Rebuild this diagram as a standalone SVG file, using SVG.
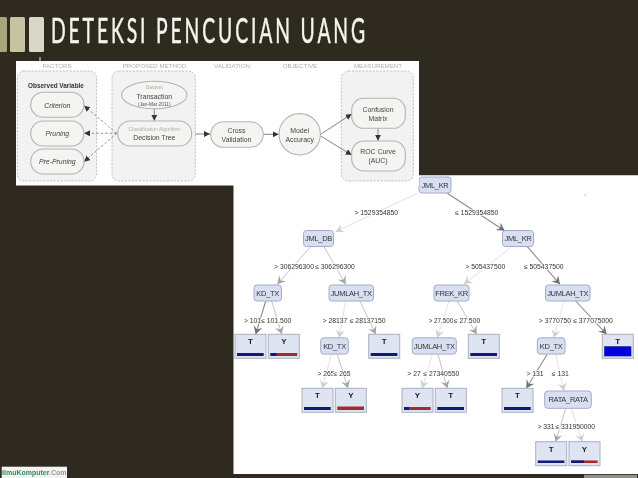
<svg xmlns="http://www.w3.org/2000/svg" width="638" height="478" viewBox="0 0 638 478">
<style>
text{font-family:"Liberation Sans",Arial,sans-serif;text-anchor:middle}
.panel{fill:#f2f2f2;stroke:#b0b0b0;stroke-dasharray:2 1.5;stroke-width:.8}
.pill{fill:#f4f4f2;stroke:#b4b4af;stroke-width:1.1}
.hd{font-size:6.2px;fill:#b0b0b0}
.t1{font-size:6.9px;fill:#444}
.it{font-size:6.9px;fill:#444;font-style:italic}
.gr{font-size:5px;fill:#b0b0b0}
.nd rect{fill:#d9dff2;stroke:#a4abc8;stroke-width:1}
.nd text{font-size:7.5px;fill:#333;letter-spacing:-.3px}
.lf>rect:first-child{fill:#dfe4f3;stroke:#a9afc2;stroke-width:1}
.lf text{font-size:8px;font-weight:bold;fill:#222}
.lb{font-size:6.8px;fill:#333;paint-order:stroke;stroke:#fff;stroke-width:1.6px}
.d1{stroke:#666;stroke-width:.7;stroke-dasharray:2.5 2;marker-end:url(#ah)}
.s1{stroke:#777;stroke-width:.9;marker-end:url(#ah)}
.e1{stroke:#e2e2e2;stroke-width:1;marker-end:url(#vl)}
.e2{stroke:#c4c4c4;stroke-width:1;marker-end:url(#vm)}
.e3{stroke:#8d8d8d;stroke-width:1.1;marker-end:url(#vd)}
</style>
<defs>
<filter id="b" x="-2%" y="-2%" width="104%" height="104%"><feGaussianBlur stdDeviation="0.5"/></filter>
<marker id="ah" markerUnits="userSpaceOnUse" markerWidth="8" markerHeight="8" refX="6" refY="3" orient="auto"><path d="M0 0L6 3L0 6Z" fill="#333"/></marker>
<marker id="vl" markerUnits="userSpaceOnUse" markerWidth="10" markerHeight="10" refX="8" refY="4.500" orient="auto"><path d="M0 0L8 4.500L0 9L3 4.500Z" fill="#cfcfcf"/></marker>
<marker id="vm" markerUnits="userSpaceOnUse" markerWidth="10" markerHeight="10" refX="8" refY="4.500" orient="auto"><path d="M0 0L8 4.500L0 9L3 4.500Z" fill="#a5a5a5"/></marker>
<marker id="vd" markerUnits="userSpaceOnUse" markerWidth="10" markerHeight="10" refX="8" refY="4.500" orient="auto"><path d="M0 0L8 4.500L0 9L3 4.500Z" fill="#6f6f6f"/></marker>
</defs>
<rect width="638" height="478" fill="#2e2a1f"/>
<g id="slide-head" filter="url(#b)">
<rect x="-4" y="17" width="11" height="35" rx="1.500" fill="#a8a67c"/>
<rect x="10" y="17" width="15" height="35" rx="1.500" fill="#c5c3a0"/>
<rect x="29" y="17" width="15" height="35" rx="1.500" fill="#d9d7c5"/>
<text x="51" y="43" style="text-anchor:start;font-family:Lato,'Liberation Sans',sans-serif;font-size:34px;letter-spacing:5px;stroke:#f4f4ee;stroke-width:.5px" fill="#f4f4ee" textLength="317" lengthAdjust="spacingAndGlyphs">DETEKSI PENCUCIAN UANG</text>
<rect x="39.500" y="57" width="1" height="5" fill="#ddd"/>
</g>
<g id="tree-image" filter="url(#b)">
<rect x="233.500" y="175" width="405" height="299" fill="#fff"/>
<rect x="419" y="175" width="219" height="1" fill="#cfcbc4"/>
<circle cx="585" cy="195" r=".6" fill="#777"/>
<g id="tree-connectors">
<line class="e1" x1="417.300" y1="193.300" x2="335.700" y2="231.700"/>
<line class="e3" x1="447.300" y1="193.300" x2="504.700" y2="230.700"/>
<line class="e2" x1="310.700" y1="246.700" x2="277.300" y2="284.300"/>
<line class="e2" x1="324" y1="246.700" x2="345.700" y2="284.300"/>
<line class="e1" x1="510.700" y1="247.700" x2="464" y2="284"/>
<line class="e3" x1="527.300" y1="246.700" x2="560" y2="284.300"/>
<line class="e3" x1="265.700" y1="301" x2="255.700" y2="334.300"/>
<line class="e2" x1="271.700" y1="301" x2="281.700" y2="334.300"/>
<line class="e1" x1="345.700" y1="301" x2="339" y2="337.700"/>
<line class="e2" x1="360" y1="301" x2="375.700" y2="334.300"/>
<line class="e1" x1="449" y1="301" x2="437.300" y2="337.700"/>
<line class="e2" x1="457.300" y1="301" x2="476.700" y2="334.300"/>
<line class="e1" x1="564" y1="301" x2="554" y2="337.700"/>
<line class="e3" x1="575.700" y1="301" x2="606.700" y2="334.300"/>
<line class="e1" x1="331.300" y1="354.300" x2="322.300" y2="388.300"/>
<line class="e2" x1="337.300" y1="354.300" x2="348" y2="388.300"/>
<line class="e1" x1="432.300" y1="354.300" x2="422.300" y2="388.300"/>
<line class="e2" x1="438" y1="354.300" x2="447.300" y2="388.300"/>
<line class="e3" x1="547.300" y1="354.300" x2="526.300" y2="388.300"/>
<line class="e1" x1="555.700" y1="354.300" x2="564" y2="391"/>
<line class="e2" x1="565.700" y1="408.300" x2="555.700" y2="441.700"/>
<line class="e1" x1="571.300" y1="408.300" x2="582.300" y2="441.700"/>
</g>
<g id="tree-labels">
<text class="lb" x="376.300" y="215">&gt; 1529354850</text>
<text class="lb" x="476.700" y="215">≤ 1529354850</text>
<text class="lb" x="294" y="268.500">&gt; 306296300</text>
<text class="lb" x="335" y="268.500">≤ 306296300</text>
<text class="lb" x="485.300" y="268.500">&gt; 505437500</text>
<text class="lb" x="543.700" y="268.500">≤ 505437500</text>
<text class="lb" x="252.500" y="322.500">&gt; 101</text>
<text class="lb" x="276.300" y="322.500">≤ 101.500</text>
<text class="lb" x="335" y="322.500">&gt; 28137</text>
<text class="lb" x="367.700" y="322.500">≤ 28137150</text>
<text class="lb" x="441" y="322.500" style="font-size:6.300px">&gt; 27.500</text>
<text class="lb" x="467" y="322.500">≤ 27.500</text>
<text class="lb" x="555" y="322.500">&gt; 3770750</text>
<text class="lb" x="593" y="322.500">≤ 377075000</text>
<text class="lb" x="326" y="375.800">&gt; 265</text>
<text class="lb" x="342" y="375.800">≤ 265</text>
<text class="lb" x="414" y="375.800">&gt; 27</text>
<text class="lb" x="441.300" y="375.800">≤ 27340550</text>
<text class="lb" x="535" y="375.800">&gt; 131</text>
<text class="lb" x="560.300" y="375.800">≤ 131</text>
<text class="lb" x="546" y="429.200">&gt; 331</text>
<text class="lb" x="575.300" y="429.200">≤ 331950000</text>
</g>
<g id="n-root" class="nd"><rect x="419" y="177" width="32" height="16" rx="3"/><text x="435" y="187.700">JML_KR</text></g>
<g id="n-jml-db" class="nd"><rect x="303.500" y="230.500" width="30" height="16" rx="3"/><text x="318.500" y="241.200">JML_DB</text></g>
<g id="n-jml-kr" class="nd"><rect x="502.500" y="230.500" width="31" height="16" rx="3"/><text x="518" y="241.200">JML_KR</text></g>
<g id="n-kd1" class="nd"><rect x="254" y="285" width="27.500" height="16" rx="3"/><text x="267.700" y="295.700">KD_TX</text></g>
<g id="n-jum1" class="nd"><rect x="329" y="285" width="44.500" height="16" rx="3"/><text x="351.200" y="295.700">JUMLAH_TX</text></g>
<g id="n-frek" class="nd"><rect x="434" y="285" width="35" height="16" rx="3"/><text x="451.500" y="295.700">FREK_KR</text></g>
<g id="n-jum2" class="nd"><rect x="545.500" y="285" width="44.500" height="16" rx="3"/><text x="567.700" y="295.700">JUMLAH_TX</text></g>
<g id="n-kd2" class="nd"><rect x="320.700" y="337.800" width="27.600" height="16.300" rx="3"/><text x="334.500" y="348.700">KD_TX</text></g>
<g id="n-jum3" class="nd"><rect x="412.300" y="337.800" width="44" height="16.300" rx="3"/><text x="434.300" y="348.700">JUMLAH_TX</text></g>
<g id="n-kd3" class="nd"><rect x="537.300" y="337.800" width="27.700" height="16.300" rx="3"/><text x="551.200" y="348.700">KD_TX</text></g>
<g id="n-rata" class="nd"><rect x="544.700" y="391" width="46.600" height="17.300" rx="3"/><text x="568" y="402.300">RATA_RATA</text></g>
<g id="l1" class="lf"><rect x="235" y="334.300" width="31" height="24"/><text x="250.500" y="344">T</text><rect x="237" y="353" width="26.700" height="3" fill="#0b1a78"/></g>
<g id="l2" class="lf"><rect x="268.300" y="334.300" width="31" height="24"/><text x="283.800" y="344">Y</text><rect x="270.500" y="353" width="26.700" height="3" fill="#a52a2a"/><rect x="270.500" y="353" width="6" height="3" fill="#0b1a78"/></g>
<g id="l3" class="lf"><rect x="368.700" y="334.300" width="31" height="24"/><text x="384.200" y="344">T</text><rect x="370.700" y="353" width="26.700" height="3" fill="#0b1a78"/></g>
<g id="l4" class="lf"><rect x="468.300" y="334.300" width="31" height="24"/><text x="483.800" y="344">T</text><rect x="470.300" y="353" width="26.700" height="3" fill="#0b1a78"/></g>
<g id="l5" class="lf"><rect x="602.300" y="334.300" width="31" height="24"/><text x="617.800" y="344">T</text><rect x="604.500" y="346.700" width="26.500" height="9.300" fill="#0000e0" stroke="#0b1a78" stroke-width=".6"/></g>
<g id="l6" class="lf"><rect x="302" y="388.300" width="31" height="24"/><text x="317.500" y="398">T</text><rect x="304" y="407" width="26.700" height="3" fill="#0b1a78"/></g>
<g id="l7" class="lf"><rect x="335.300" y="388.300" width="31" height="24"/><text x="350.800" y="398">Y</text><rect x="337.300" y="406.500" width="26.700" height="3.500" fill="#a52a2a"/></g>
<g id="l8" class="lf"><rect x="402" y="388.300" width="31" height="24"/><text x="417.500" y="398">Y</text><rect x="404" y="407" width="26.700" height="3" fill="#a52a2a"/><rect x="404" y="407" width="5" height="3" fill="#0b1a78"/></g>
<g id="l9" class="lf"><rect x="435.300" y="388.300" width="31" height="24"/><text x="450.800" y="398">T</text><rect x="437.300" y="407" width="26.700" height="3" fill="#0b1a78"/></g>
<g id="l10" class="lf"><rect x="502" y="388.300" width="31" height="24"/><text x="517.500" y="398">T</text><rect x="504" y="407" width="26.700" height="3" fill="#0b1a78"/></g>
<g id="l11" class="lf"><rect x="535.700" y="441.700" width="31" height="24"/><text x="551.200" y="451.500">T</text><rect x="537.700" y="460.500" width="26.700" height="2.500" fill="#0b1a78"/></g>
<g id="l12" class="lf"><rect x="569" y="441.700" width="31" height="24"/><text x="584.500" y="451.500">Y</text><rect x="571" y="460.500" width="26.700" height="2.500" fill="#a52a2a"/><rect x="571" y="460.500" width="13" height="2.500" fill="#0b1a78"/></g>
</g>
<g id="method-image" filter="url(#b)">
<rect x="16" y="61" width="403" height="124.500" fill="#fff"/>
<text class="hd" x="57" y="67.500">FACTORS</text>
<text class="hd" x="154.500" y="67.500">PROPOSED METHOD</text>
<text class="hd" x="232" y="67.500">VALIDATION</text>
<text class="hd" x="300" y="67.500">OBJECTIVE</text>
<text class="hd" x="378" y="67.500">MEASUREMENT</text>
<rect class="panel" x="17.300" y="71" width="79.300" height="110" rx="7"/>
<rect class="panel" x="112" y="71" width="83.300" height="110" rx="7"/>
<rect class="panel" x="341.300" y="71" width="72" height="110" rx="7"/>
<text x="56" y="87.500" style="font-size:6.400px;font-weight:bold" fill="#333">Observed Variable</text>
<g id="connectors">
<line class="d1" x1="116.700" y1="133.300" x2="84" y2="105.700"/>
<line class="d1" x1="116.700" y1="133.300" x2="84" y2="133.300"/>
<line class="d1" x1="116.700" y1="133.300" x2="84" y2="161.700"/>
<line class="s1" x1="154.300" y1="109" x2="154.300" y2="120.700"/>
<line class="s1" x1="195.300" y1="134" x2="210" y2="134"/>
<line class="s1" x1="264" y1="134.300" x2="278.700" y2="134.300"/>
<line class="s1" x1="320.700" y1="134.300" x2="351.700" y2="114"/>
<line class="s1" x1="320.700" y1="136" x2="351.700" y2="155"/>
<line class="s1" x1="378" y1="128.300" x2="378" y2="140.700"/>
</g>
<g id="criterion"><rect class="pill" x="30.700" y="92.300" width="53.300" height="25" rx="12.500"/><text class="it" x="57.300" y="107.500">Criterion</text></g>
<g id="pruning"><rect class="pill" x="30.700" y="121" width="53.300" height="25" rx="12.500"/><text class="it" x="57.300" y="136">Pruning</text></g>
<g id="pre-pruning"><rect class="pill" x="30.700" y="149" width="53.300" height="25" rx="12.500"/><text class="it" x="57.300" y="164">Pre-Pruning</text></g>
<g id="dataset"><ellipse class="pill" cx="154.300" cy="95" rx="32.700" ry="13.700"/><text class="gr" x="154.300" y="89">Dataset</text><text class="t1" x="154.300" y="98.500">Transaction</text><text x="154.300" y="106" style="font-size:4.800px" fill="#555">(Jan-Mar 2011)</text></g>
<g id="decision-tree"><rect class="pill" x="117.700" y="121" width="74" height="25" rx="12.500"/><text class="gr" x="154.300" y="131">Classification Algorithm</text><text class="t1" x="154.300" y="139.500">Decision Tree</text></g>
<g id="cross-validation"><rect class="pill" x="210.700" y="121.700" width="52.600" height="25.600" rx="12.800"/><text class="t1" x="236.500" y="132.500">Cross</text><text class="t1" x="236.500" y="141.500">Validation</text></g>
<g id="model-accuracy"><circle class="pill" cx="299.700" cy="134.300" r="20.700"/><text class="t1" x="299.700" y="132.500">Model</text><text class="t1" x="299.700" y="141.500">Accuracy</text></g>
<g id="confusion"><rect class="pill" x="351.700" y="98.300" width="53.600" height="30" rx="12"/><text class="t1" x="378" y="111.500">Confusion</text><text class="t1" x="378" y="120.500">Matrix</text></g>
<g id="roc"><rect class="pill" x="351.700" y="141" width="53.600" height="30" rx="12"/><text class="t1" x="378" y="153.500">ROC Curve</text><text class="t1" x="378" y="162.500">(AUC)</text></g>
</g>
<g id="logo" filter="url(#b)">
<rect x="1.700" y="466.700" width="65.300" height="11.300" fill="#f4f4f4"/>
<text x="34.300" y="475.300" style="font-size:7px;font-weight:bold" fill="#2e8b57">IlmuKomputer<tspan fill="#999">.Com</tspan></text>
</g>
<rect x="584" y="474.800" width="53" height="3.200" fill="#bdbdb8" opacity=".7" filter="url(#b)"/>
</svg>
